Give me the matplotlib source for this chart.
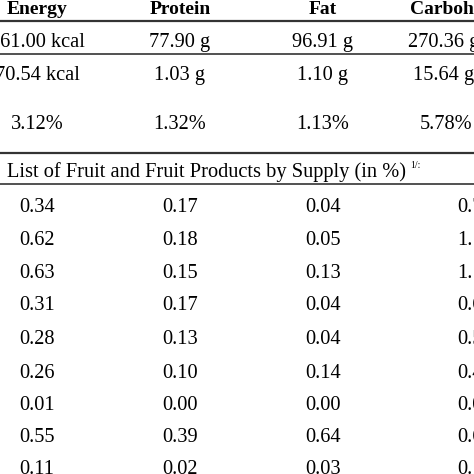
import matplotlib
matplotlib.use("Agg")
import matplotlib.pyplot as plt

headers = ["Energy", "Protein", "Fat", "Carbohydrate"]
total_row = ["261.00 kcal", "77.90 g", "96.91 g", "270.36 g"]
fruit_row = ["70.54 kcal", "1.03 g", "1.10 g", "15.64 g"]
share_row = ["3.12%", "1.32%", "1.13%", "5.78%"]
section_title = "List of Fruit and Fruit Products by Supply (in %)"
energy = ["0.34", "0.62", "0.63", "0.31", "0.28", "0.26", "0.01", "0.55", "0.11"]
protein = ["0.17", "0.18", "0.15", "0.17", "0.13", "0.10", "0.00", "0.39", "0.02"]
fat = ["0.04", "0.05", "0.13", "0.04", "0.04", "0.14", "0.00", "0.64", "0.03"]
carbs = ["0.75", "1.13", "1.12", "0.62", "0.55", "0.45", "0.02", "0.64", "0.12"]

plt.rcParams['font.family'] = ['Liberation Serif', 'DejaVu Serif']
fig = plt.figure(figsize=(4.74, 4.74), dpi=100)
ax = fig.add_axes([0, 0, 1, 1])
ax.set_xlim(0, 474)
ax.set_ylim(474, 0)
ax.axis('off')

fs = 14.7
hfs = 14
cx = [37, 180, 323]
for x, h in zip(cx, headers[:3]):
    ax.text(x, 9, h, ha='center', va='center', fontsize=hfs, fontweight='bold')
ax.text(410, 9, headers[3], ha='left', va='center', fontsize=hfs, fontweight='bold')

for y, row, lastx in [(42, total_row, 408), (75, fruit_row, 413), (124, share_row, 420)]:
    for x, v in zip(cx, row[:3]):
        ax.text(x, y, v, ha='center', va='center', fontsize=fs)
    ax.text(lastx, y, row[3], ha='left', va='center', fontsize=fs)

ax.text(7, 172, section_title, ha='left', va='center', fontsize=fs)
ax.text(410, 166, "1/:", ha='left', va='center', fontsize=7)

ys = [208, 240, 273, 306, 340, 373, 405, 438, 470]
for i, y in enumerate(ys):
    for x, col in zip(cx, [energy, protein, fat]):
        ax.text(x, y, col[i], ha='center', va='center', fontsize=fs)
    ax.text(457, y, carbs[i], ha='left', va='center', fontsize=fs)

for y, lw in [(21, 1.6), (54, 1.2), (153, 1.6), (184, 1.2)]:
    ax.plot([0, 474], [y, y], color='#333333', lw=lw)

fig.savefig("out.png", dpi=100)
